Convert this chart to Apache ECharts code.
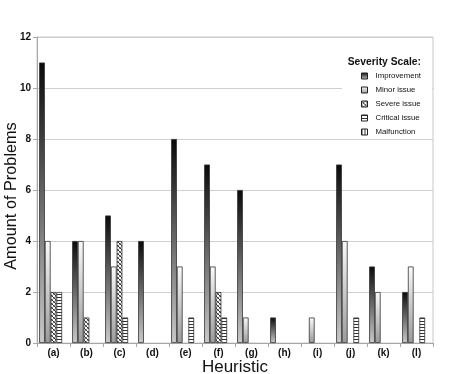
<!DOCTYPE html>
<html>
<head>
<meta charset="utf-8">
<script src="https://cdn.jsdelivr.net/npm/echarts@6/dist/echarts.min.js"></script>
<style>html,body{margin:0;padding:0;background:#fff}#c{width:474px;height:374px}</style>
</head>
<body>
<div id="c"></div>
<script>
var categories = ['(a)','(b)','(c)','(d)','(e)','(f)','(g)','(h)','(i)','(j)','(k)','(l)'];
var improvement = [11, 4, 5, 4, 8, 7, 6, 1, 0, 7, 3, 2];
var minorIssue  = [4, 4, 3, 0, 3, 3, 1, 0, 1, 4, 2, 3];
var severeIssue = [2, 1, 4, 0, 0, 2, 0, 0, 0, 0, 0, 0];
var criticalIssue = [2, 0, 1, 0, 1, 1, 0, 0, 0, 1, 0, 1];
var malfunction = [0, 0, 0, 0, 0, 0, 0, 0, 0, 0, 0, 0];
var seriesNames = ['Improvement','Minor issue','Severe issue','Critical issue','Malfunction'];
var yTicks = [0, 2, 4, 6, 8, 10, 12];

function pattern(w, h, draw) {
  var c = document.createElement('canvas');
  c.width = w; c.height = h;
  var ctx = c.getContext('2d');
  ctx.fillStyle = '#fff'; ctx.fillRect(0, 0, w, h);
  draw(ctx);
  return { image: c, repeat: 'repeat' };
}
var severePat = pattern(4, 4, function (ctx) {
  ctx.fillStyle = '#333';
  for (var i = 0; i < 4; i++) { ctx.fillRect(i, i, 1, 1); }
  ctx.fillStyle = '#888';
  for (var j = 0; j < 4; j++) { ctx.fillRect((3 - j), j, 1, 1); }
});
var criticalPat = pattern(4, 3, function (ctx) {
  ctx.fillStyle = '#333'; ctx.fillRect(0, 0, 4, 1);
});
var malfPat = pattern(3, 4, function (ctx) {
  ctx.fillStyle = '#333'; ctx.fillRect(0, 0, 1, 4);
});
function vgrad(a, b) {
  return { type: 'linear', x: 0, y: 0, x2: 0, y2: 1, colorStops: [{ offset: 0, color: a }, { offset: 1, color: b }] };
}
var fills = [vgrad('#0a0a0a', '#cacaca'), vgrad('#fafafa', '#9a9a9a'), severePat, criticalPat, malfPat];
var values = [improvement, minorIssue, severeIssue, criticalIssue, malfunction];

var FF = 'Liberation Sans, Arial, sans-serif';
var chart = echarts.init(document.getElementById('c'), null, { renderer: 'canvas' });
chart.setOption({
  animation: false,
  backgroundColor: '#fff',
  title: {
    text: 'Severity Scale:', right: 53, top: 57, padding: 0,
    textStyle: { fontFamily: FF, fontSize: 10.3, fontWeight: 'bold', color: '#111' }
  },
  legend: {
    data: seriesNames,
    orient: 'vertical',
    right: 42, top: 38,
    padding: [33, 11, 2, 19],
    backgroundColor: '#fff',
    itemWidth: 6, itemHeight: 6, itemGap: 4,
    icon: 'rect',
    itemStyle: { borderColor: '#222', borderWidth: 1 },
    textStyle: { fontFamily: FF, fontSize: 7.8, color: '#111', lineHeight: 10, padding: [0, 0, 0, 3] }
  },
  grid: {
    left: 37, right: 41, top: 37, bottom: 31,
    outerBoundsMode: 'none', containLabel: false,
    show: true, borderColor: '#c8c8c8', borderWidth: 1
  },
  xAxis: {
    type: 'category', data: categories,
    name: 'Heuristic', nameLocation: 'middle', nameGap: 16, nameMoveOverlap: false,
    nameTextStyle: { fontFamily: FF, fontSize: 17, color: '#111' },
    axisLine: { lineStyle: { color: '#a8a8a8' } },
    axisTick: { show: true, alignWithLabel: false, length: 4, lineStyle: { color: '#a8a8a8' } },
    axisLabel: { fontFamily: FF, fontSize: 10, fontWeight: 'bold', color: '#111', margin: 5 }
  },
  yAxis: {
    type: 'value', min: yTicks[0], max: yTicks[yTicks.length - 1], interval: 2,
    name: 'Amount of Problems', nameLocation: 'middle', nameGap: 17, nameMoveOverlap: false,
    nameTextStyle: { fontFamily: FF, fontSize: 16.3, color: '#111', padding: [0, 12, 0, 0] },
    axisLine: { show: true, lineStyle: { color: '#a8a8a8' } },
    axisTick: { show: true, length: 4, lineStyle: { color: '#a8a8a8' } },
    axisLabel: { fontFamily: FF, fontSize: 10, fontWeight: 'bold', color: '#111', margin: 6 },
    splitLine: { lineStyle: { color: '#cfcfcf' } }
  },
  series: seriesNames.map(function (n, i) {
    return {
      name: n, type: 'bar',
      data: values[i].map(function (v) { return v === 0 ? '-' : v; }),
      barGap: '0%', barCategoryGap: '13%',
      itemStyle: { color: fills[i], borderColor: '#333', borderWidth: 0.8 }
    };
  })
});
</script>
</body>
</html>
